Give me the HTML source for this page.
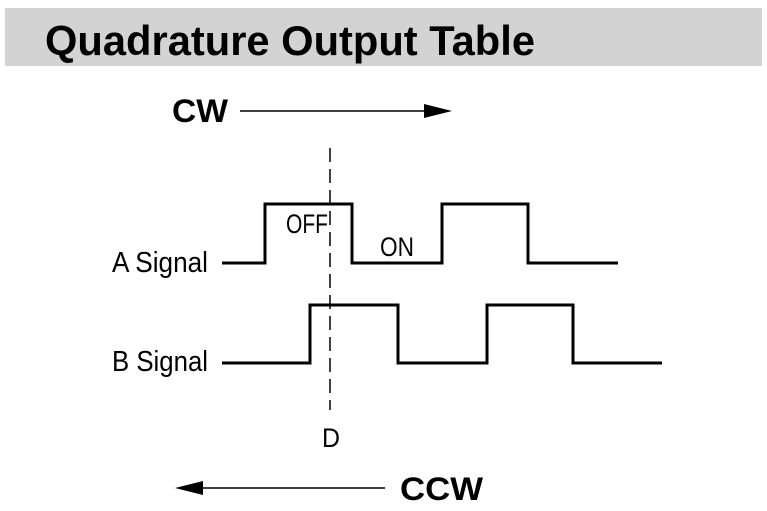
<!DOCTYPE html>
<html><head><meta charset="utf-8"><style>
html,body{margin:0;padding:0;background:#fff;}
svg{display:block;}
</style></head><body>
<svg width="767" height="511" viewBox="0 0 767 511" xmlns="http://www.w3.org/2000/svg">
<rect x="5" y="8" width="757" height="58" fill="#d3d3d3"/>
<text x="45" y="55" font-family="Liberation Sans, sans-serif" font-weight="bold" font-size="42" textLength="490" lengthAdjust="spacingAndGlyphs">Quadrature Output Table</text>
<text x="172" y="122" font-family="Liberation Sans, sans-serif" font-weight="bold" font-size="32" textLength="56" lengthAdjust="spacingAndGlyphs">CW</text>
<line x1="240" y1="111" x2="430" y2="111" stroke="#000" stroke-width="1.5"/>
<polygon points="452,111 424,104 424,118" fill="#000"/>
<g fill="none" stroke="#000" stroke-width="3">
<polyline points="222,263 265,263 265,204 352,204 352,263 442,263 442,204 528,204 528,263 618,263"/>
<polyline points="222,363 310,363 310,305 398,305 398,363 487,363 487,305 573,305 573,363 662,363"/>
</g>
<line x1="330" y1="148" x2="330" y2="410" stroke="#000" stroke-width="1.5" stroke-dasharray="14,7"/>
<g font-family="Liberation Sans, sans-serif">
<text x="112" y="272" font-size="29" textLength="96" lengthAdjust="spacingAndGlyphs">A Signal</text>
<text x="112" y="371" font-size="29" textLength="96" lengthAdjust="spacingAndGlyphs">B Signal</text>
<text x="286" y="233" font-size="27" textLength="42" lengthAdjust="spacingAndGlyphs">OFF</text>
<text x="380" y="256" font-size="27" textLength="34" lengthAdjust="spacingAndGlyphs">ON</text>
<text x="322" y="447" font-size="27" textLength="18" lengthAdjust="spacingAndGlyphs">D</text>
</g>
<line x1="198" y1="488" x2="385" y2="488" stroke="#000" stroke-width="1.5"/>
<polygon points="175,488 203,481 203,495" fill="#000"/>
<text x="400" y="500" font-family="Liberation Sans, sans-serif" font-weight="bold" font-size="32" textLength="83" lengthAdjust="spacingAndGlyphs">CCW</text>
</svg>
</body></html>
